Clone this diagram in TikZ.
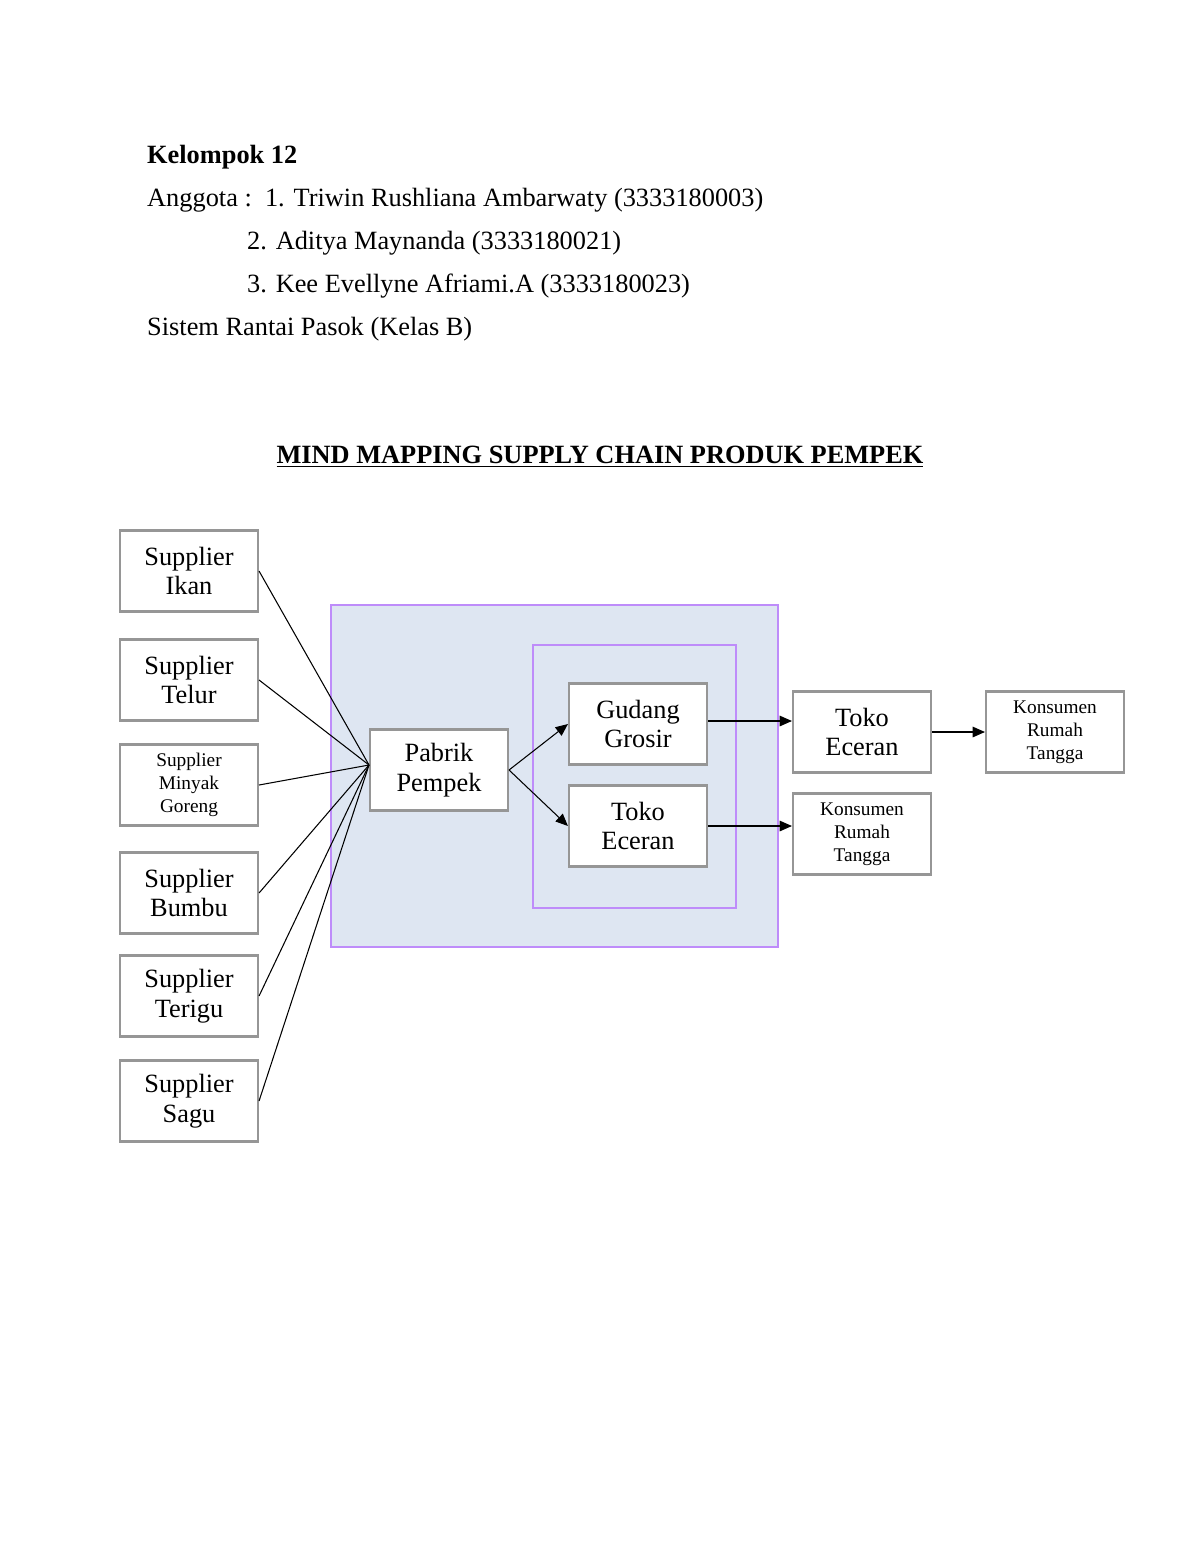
\documentclass[tikz,border=0pt]{standalone}
\usepackage{fontspec}
\setmainfont{Liberation Serif}
\usetikzlibrary{arrows.meta, positioning}
\definecolor{boxgray}{RGB}{150, 150, 150}
\definecolor{lilac}{RGB}{190, 140, 250}
\definecolor{palebg}{RGB}{222, 230, 242}

\begin{document}
\begin{tikzpicture}[x=0.02cm, y=-0.02cm,
  every node/.style={font=\fontsize{15}{17}\selectfont},
  blok/.style={draw=boxgray, line width=1.2pt, fill=white, minimum width=2.76cm,
    minimum height=1.62cm, align=center, inner sep=0pt},
  kecil/.style={font=\fontsize{11}{13}\selectfont},
  panah/.style={-{Triangle[length=7pt, width=6pt]}, line width=0.6pt}]
  \useasboundingbox (0,0) rectangle (1200,1553);

  % Header text
  \node[anchor=west, font=\fontsize{15}{17}\selectfont\bfseries] (kel) at (141,157) {Kelompok 12};
  \node[anchor=west] (ang) at (141,200) {Anggota :\ \ 1. Triwin Rushliana Ambarwaty (3333180003)};
  \node[anchor=west] (ang2) at (241,243) {2. Aditya Maynanda (3333180021)};
  \node[anchor=west] (ang3) at (241,286) {3. Kee Evellyne Afriami.A (3333180023)};
  \node[anchor=west] (kls) at (141,329) {Sistem Rantai Pasok (Kelas B)};
  \node[font=\fontsize{15}{17}\selectfont\bfseries] (judul) at (600,457)
    {\underline{MIND MAPPING SUPPLY CHAIN PRODUK PEMPEK}};

  % Frames
  \draw[lilac, line width=1.3pt, fill=palebg] (331,605) rectangle (778,947);
  \draw[lilac, line width=1.3pt] (533,645) rectangle (736,908);

  % Suppliers
  \node[blok] (ikan) at (189,571) {Supplier\\Ikan};
  \node[blok] (telur) at (189,680) {Supplier\\Telur};
  \node[blok, kecil] (minyak) at (189,785) {Supplier\\Minyak\\Goreng};
  \node[blok] (bumbu) at (189,893) {Supplier\\Bumbu};
  \node[blok] (terigu) at (189,996) {Supplier\\Terigu};
  \node[blok] (sagu) at (189,1101) {Supplier\\Sagu};

  % Chain
  \node[blok] (pabrik) at (439,770) {Pabrik\\Pempek};
  \node[blok] (gudang) at (638,724) {Gudang\\Grosir};
  \node[blok] (tokoA) at (638,826) {Toko\\Eceran};
  \node[blok] (tokoB) at (862,732) {Toko\\Eceran};
  \node[blok, kecil] (konsA) at (1055,732) {Konsumen\\Rumah\\Tangga};
  \node[blok, kecil] (konsB) at (862,834) {Konsumen\\Rumah\\Tangga};

  % Connectors
  \coordinate (masuk) at (369,765);
  \foreach \s in {ikan, telur, minyak, bumbu, terigu, sagu}
    \draw[line width=0.6pt] (\s.east) -- (masuk);
  \draw[panah] (pabrik.east) -- (gudang.west);
  \draw[panah] (pabrik.east) -- (tokoA.west);
  \draw[panah] (gudang.east |- 0,721) -- (tokoB.west |- 0,721);
  \draw[panah] (tokoA.east) -- (konsB.west |- tokoA.east);
  \draw[panah] (tokoB.east) -- (konsA.west);
\end{tikzpicture}
\end{document}
